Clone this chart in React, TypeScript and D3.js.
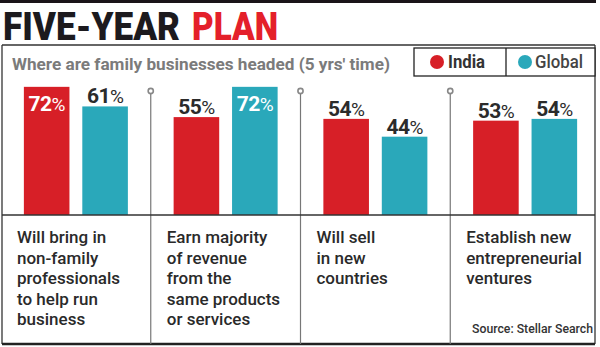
import React from "react";
import * as d3 from "d3";

const categories = ["bring", "revenue", "sell", "establish"];
const categoryLines = [
  ["Will bring in", "non-family", "professionals", "to help run", "business"],
  ["Earn majority", "of revenue", "from the", "same products", "or services"],
  ["Will sell", "in new", "countries"],
  ["Establish new", "entrepreneurial", "ventures"],
];
const seriesNames = ["India", "Global"];
const indiaValues = [72, 55, 54, 53];
const globalValues = [61, 72, 44, 54];

const W = 600;
const H = 347;
const RED = "#d71f27";
const TEAL = "#2aa8ba";
const TITLE_RED = "#e4202a";
const DARK = "#2a2a2a";

export default function App() {
  const frameL = 2, frameR = 595, frameT = 45, frameB = 344;
  const baseY = 215;
  const x = d3.scaleBand<string>().domain(categories).range([1, 600]).padding(0);
  const inner = d3.scaleBand<string>().domain(seriesNames).range([-52, 52]).paddingInner(0.22);
  const y = d3.scaleLinear().domain([0, 100]).range([baseY, baseY - 178]);
  const colors: Record<string, string> = { India: RED, Global: TEAL };
  const values: Record<string, number[]> = { India: indiaValues, Global: globalValues };

  const seps = categories.slice(1).map((c) => x(c)!);

  return (
    <svg width={W} height={H} style={{ position: "absolute", left: 0, top: 0, background: "#fff" }}
      fontFamily="Roboto, 'Noto Sans', sans-serif">
      <rect x={0} y={0} width={596} height={3} fill="#1a1418" />
      <text transform="translate(3,40) scale(1,1.22)" x={0} y={0} fontSize={32} fontWeight={900} fill="#1c1a1e"
        textLength={177} lengthAdjust="spacingAndGlyphs">FIVE-YEAR</text>
      <text transform="translate(192,40) scale(1,1.22)" x={0} y={0} fontSize={32} fontWeight={900} fill={TITLE_RED}
        textLength={86} lengthAdjust="spacingAndGlyphs">PLAN</text>

      {/* frame */}
      <line x1={frameL} x2={frameR} y1={frameT} y2={frameT} stroke="#333" strokeWidth={1.3} />
      <line x1={frameL} x2={frameL} y1={frameT} y2={frameB} stroke="#333" strokeWidth={1.3} />
      <line x1={frameR} x2={frameR} y1={frameT} y2={frameB} stroke="#333" strokeWidth={1.3} />
      <line x1={frameL} x2={frameR} y1={frameB} y2={frameB} stroke="#222" strokeWidth={2.5} />

      <text x={12} y={70} fontSize={17} fontWeight={700} fill="#7b7b7b" textLength={378} lengthAdjust="spacingAndGlyphs">
        Where are family businesses headed (5 yrs' time)
      </text>

      {/* legend */}
      <rect x={414} y={48} width={181} height={28} fill="#fff" stroke="#222" strokeWidth={1.3} />
      <line x1={506} x2={506} y1={48} y2={76} stroke="#222" strokeWidth={1.3} />
      <circle cx={437} cy={62} r={7} fill={RED} />
      <text x={448} y={68} fontSize={18} fontWeight={700} fill="#333" textLength={37} lengthAdjust="spacingAndGlyphs">India</text>
      <circle cx={525} cy={62} r={7} fill={TEAL} />
      <text x={535} y={68} fontSize={18} fontWeight={500} fill="#444" textLength={48} lengthAdjust="spacingAndGlyphs">Global</text>

      {/* separators */}
      {seps.map((sx, i) => (
        <g key={i}>
          <line x1={sx} x2={sx} y1={93} y2={frameB} stroke="#777" strokeWidth={1.2} />
          <circle cx={sx} cy={91} r={2.6} fill="#fff" stroke="#888" strokeWidth={1.6} />
        </g>
      ))}

      {/* bars */}
      {categories.map((c, ci) => {
        const cx = x(c)! + x.bandwidth() / 2;
        return (
          <g key={c}>
            {seriesNames.map((s) => {
              const v = values[s][ci];
              const bx = cx + inner(s)!;
              const bw = inner.bandwidth();
              const inside = v > 65;
              const ly = inside ? y(v) + 24 : y(v) - 3;
              return (
                <g key={s}>
                  <rect x={bx} y={y(v)} width={bw} height={baseY - y(v)} fill={colors[s]} />
                  <text x={bx + bw / 2} y={ly} textAnchor="middle" fontSize={21}
                    fill={inside ? "#fff" : "#2b2b2b"} letterSpacing={-0.6}>
                    <tspan fontWeight={700}>{v}</tspan>
                    <tspan fontWeight={400} fontSize={19}>%</tspan>
                  </text>
                </g>
              );
            })}
            {categoryLines[ci].map((ln, li) => (
              <text key={li} x={x(c)! + 16} y={243 + li * 20.5} fontSize={17} fontWeight={500} fill={DARK}>
                {ln}
              </text>
            ))}
          </g>
        );
      })}

      <line x1={frameL} x2={frameR} y1={baseY} y2={baseY} stroke="#333" strokeWidth={1.3} />

      <text x={593} y={333} textAnchor="end" fontSize={12} fontWeight={500} fill="#333" textLength={121} lengthAdjust="spacingAndGlyphs">
        Source: Stellar Search
      </text>
    </svg>
  );
}
